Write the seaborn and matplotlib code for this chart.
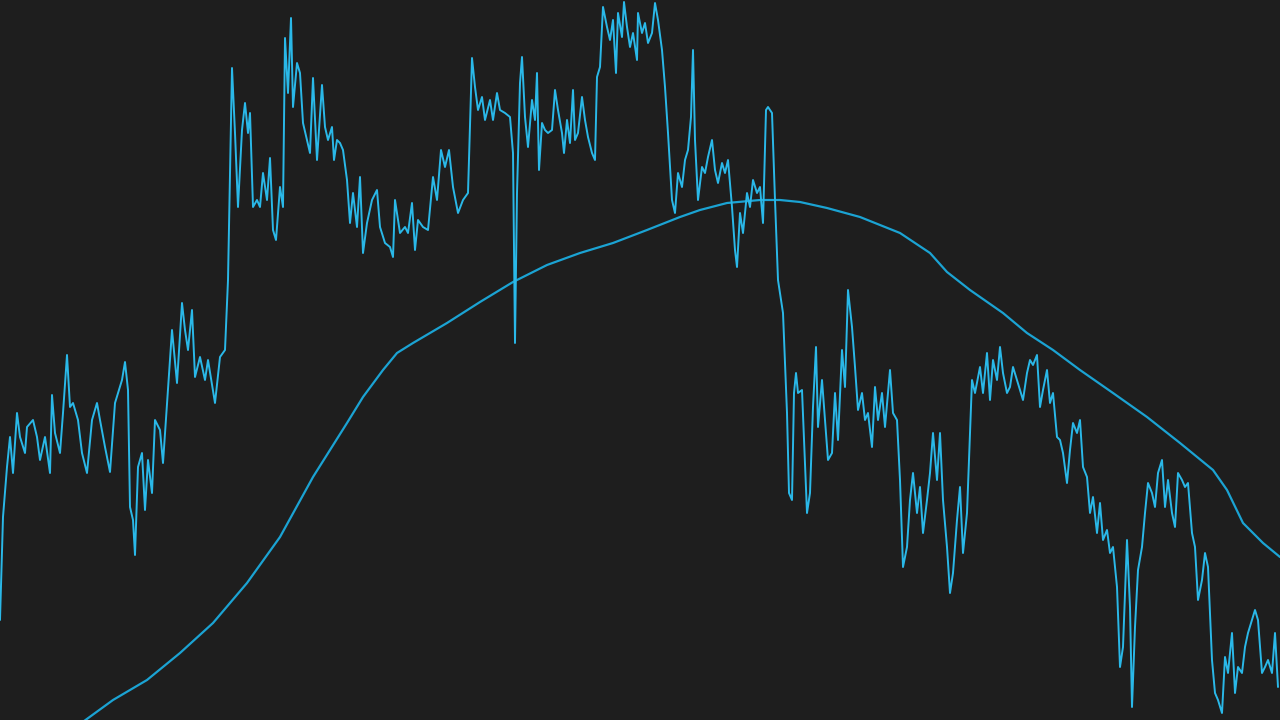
import numpy as np
import pandas as pd
import matplotlib
matplotlib.use("Agg")
import matplotlib.pyplot as plt
import seaborn as sns

# Precio (serie ruidosa) - dias y valores
days = [
    0, 3, 7, 10, 13, 17, 20, 25, 27, 33, 37, 40, 45, 50, 52, 55, 60, 63, 67, 70,
    73, 78, 82, 87, 92, 97, 100, 105, 110, 115, 118, 122, 125, 128, 130, 133, 135, 138, 142, 145,
    148, 152, 155, 160, 163, 168, 172, 177, 182, 185, 188, 192, 195, 200, 205, 208, 215, 220, 225, 228,
    232, 235, 238, 242, 245, 248, 250, 253, 257, 260, 263, 267, 270, 273, 276, 280, 283, 285, 288, 291,
    293, 297, 300, 303, 307, 310, 313, 317, 322, 325, 328, 332, 334, 337, 340, 343, 347, 350, 353, 357,
    360, 363, 367, 372, 377, 380, 385, 390, 393, 395, 400, 405, 408, 412, 415, 418, 423, 428, 433, 437,
    441, 445, 449, 453, 458, 463, 468, 472, 475, 478, 482, 485, 490, 493, 497, 500, 505, 510, 513, 515,
    517, 520, 522, 525, 528, 532, 535, 537, 539, 542, 545, 548, 552, 555, 558, 562, 564, 567, 570, 573,
    575, 578, 582, 585, 588, 592, 595, 597, 600, 603, 607, 610, 613, 616, 618, 622, 624, 627, 630, 633,
    637, 638, 642, 645, 648, 652, 655, 658, 662, 665, 668, 672, 675, 678, 682, 685, 688, 691, 693, 695,
    698, 702, 705, 708, 712, 715, 718, 722, 725, 728, 732, 735, 737, 740, 743, 747, 750, 753, 757, 760,
    763, 766, 768, 772, 775, 778, 783, 787, 789, 792, 794, 796, 798, 802, 805, 807, 810, 813, 816, 818,
    822, 825, 828, 832, 835, 838, 842, 845, 848, 852, 855, 858, 862, 865, 868, 872, 875, 878, 882, 885,
    890, 893, 897, 900, 903, 907, 910, 913, 917, 920, 923, 927, 930, 933, 937, 940, 943, 947, 950, 953,
    957, 960, 963, 967, 970, 972, 975, 980, 983, 987, 990, 993, 997, 1000, 1003, 1007, 1010, 1013, 1017, 1020,
    1023, 1027, 1030, 1033, 1037, 1040, 1043, 1047, 1050, 1053, 1057, 1060, 1063, 1067, 1070, 1073, 1077, 1080, 1083, 1087,
    1090, 1093, 1097, 1100, 1103, 1107, 1110, 1113, 1117, 1120, 1123, 1127, 1130, 1132, 1135, 1138, 1142, 1145, 1148, 1152,
    1155, 1158, 1162, 1165, 1168, 1172, 1175, 1178, 1182, 1185, 1188, 1192, 1195, 1198, 1202, 1205, 1208, 1212, 1215, 1218,
    1222, 1225, 1228, 1232, 1235, 1238, 1242, 1245, 1248, 1252, 1255, 1258, 1262, 1265, 1268, 1272, 1275, 1278,
]
price = [
    100, 203, 253, 283, 247, 307, 283, 267, 293, 300, 283, 260, 283, 247, 325, 287, 267, 307, 365, 313,
    317, 300, 267, 247, 300, 317, 300, 273, 248, 317, 327, 340, 358, 330, 213, 200, 165, 253, 267, 210,
    260, 227, 300, 290, 257, 330, 390, 337, 417, 390, 370, 410, 343, 363, 340, 360, 317, 363, 370, 440,
    652, 587, 513, 590, 617, 587, 607, 513, 520, 513, 547, 520, 562, 490, 480, 533, 513, 682, 627, 702,
    613, 657, 647, 597, 580, 567, 642, 560, 635, 593, 580, 593, 560, 580, 577, 570, 540, 497, 527, 493,
    543, 467, 497, 520, 530, 493, 477, 473, 463, 520, 487, 493, 487, 517, 470, 500, 493, 490, 543, 520,
    570, 553, 570, 533, 507, 520, 527, 662, 633, 610, 623, 600, 620, 600, 627, 610, 607, 603, 567, 377,
    527, 637, 663, 603, 573, 620, 600, 647, 550, 597, 590, 587, 590, 630, 610, 587, 567, 600, 577, 630,
    580, 587, 623, 600, 583, 567, 560, 643, 653, 713, 693, 680, 700, 647, 707, 683, 718, 693, 673, 687,
    660, 707, 687, 697, 677, 687, 717, 700, 670, 633, 587, 520, 507, 547, 533, 560, 570, 603, 670, 580,
    520, 553, 547, 563, 580, 550, 537, 557, 547, 560, 513, 470, 453, 507, 487, 527, 513, 540, 527, 533,
    497, 610, 613, 607, 520, 440, 407, 307, 227, 220, 327, 347, 327, 330, 257, 207, 227, 313, 373, 293,
    340, 300, 260, 267, 327, 280, 370, 333, 430, 393, 353, 310, 327, 300, 307, 273, 333, 300, 327, 293,
    350, 307, 300, 240, 153, 173, 220, 247, 207, 233, 187, 220, 247, 287, 240, 287, 220, 173, 127, 147,
    200, 233, 167, 207, 287, 340, 327, 353, 327, 367, 320, 360, 340, 373, 347, 327, 333, 353, 340, 330,
    320, 347, 360, 355, 365, 313, 330, 350, 317, 327, 283, 280, 267, 237, 270, 297, 287, 300, 253, 243,
    207, 223, 187, 217, 180, 190, 167, 173, 133, 53, 73, 180, 113, 13, 93, 150, 173, 207, 237, 227,
    213, 247, 260, 213, 240, 207, 193, 247, 240, 233, 237, 187, 173, 120, 140, 167, 153, 60, 27, 20,
    7, 63, 47, 87, 27, 53, 47, 73, 87, 100, 110, 100, 47, 53, 60, 47, 87, 33,
]

# Media movil (linea suave)
ma_days = [
    80, 113, 147, 180, 213, 247, 280, 313, 330, 347, 363, 383, 397, 413, 447, 480, 513, 547, 580, 613,
    647, 680, 700, 727, 760, 780, 800, 827, 860, 880, 900, 930, 947, 970, 1003, 1027, 1053, 1080, 1113, 1147,
    1180, 1213, 1227, 1243, 1263, 1280,
]
ma_price = [
    -4, 20, 40, 67, 97, 137, 183, 243, 270, 297, 323, 350, 367, 377, 397, 418, 438, 455, 467, 477,
    490, 503, 510, 517, 520, 520, 518, 512, 503, 495, 487, 467, 448, 430, 407, 387, 370, 350, 327, 303,
    277, 250, 230, 197, 177, 163,
]

precio = pd.DataFrame({"dia": days, "precio": price})
media = pd.DataFrame({"dia": ma_days, "media": ma_price})

sns.set_style("dark")
bg = "#1e1e1e"

fig = plt.figure(figsize=(12.8, 7.2), dpi=100, facecolor=bg)
ax = fig.add_axes([0, 0, 1, 1])
ax.set_facecolor(bg)

sns.lineplot(data=media, x="dia", y="media", ax=ax, color="#1ba3d3", linewidth=1.6, sort=False)
sns.lineplot(data=precio, x="dia", y="precio", ax=ax, color="#2ab8e8", linewidth=1.4, sort=False)

ax.set_xlim(0, 1280)
ax.set_ylim(0, 720)
ax.axis("off")

fig.savefig("out.png", dpi=100, facecolor=bg)
